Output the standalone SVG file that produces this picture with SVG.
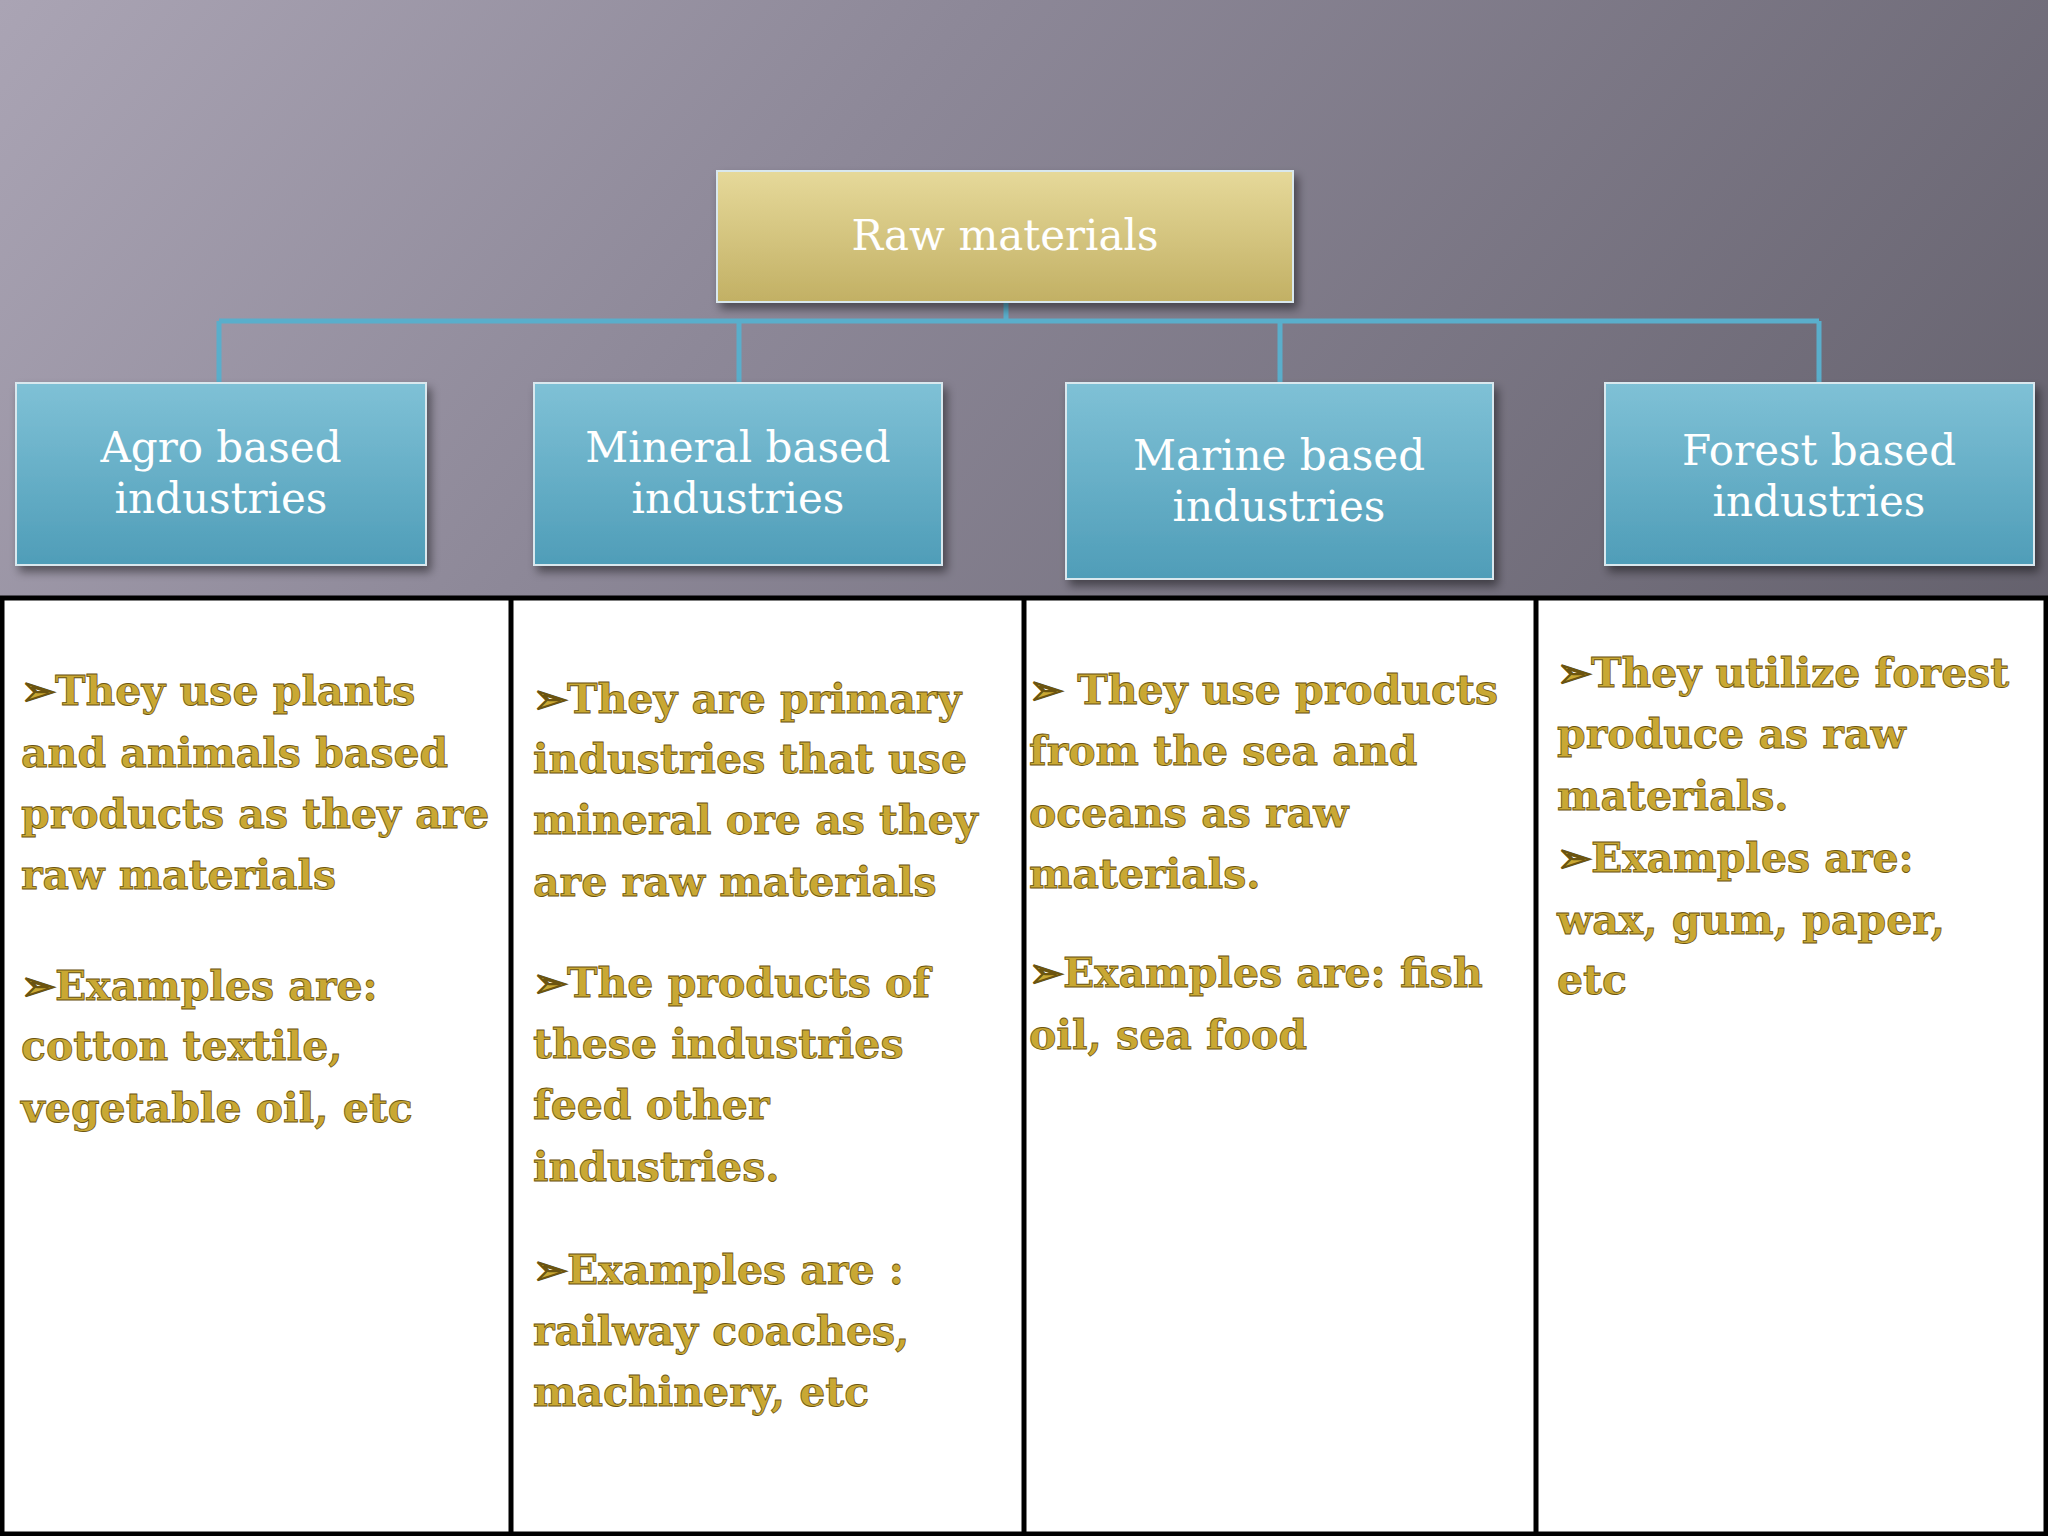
<svg xmlns="http://www.w3.org/2000/svg" width="2048" height="1536" viewBox="0 0 2048 1536">
<defs>
<linearGradient id="bg" x1="0" y1="0" x2="1" y2="0.6">
<stop offset="0" stop-color="#aaa4b4"/><stop offset="0.35" stop-color="#8d8898"/><stop offset="1" stop-color="#5e5b66"/>
</linearGradient>
<linearGradient id="gold" x1="0" y1="0" x2="0" y2="1">
<stop offset="0" stop-color="#e6d99a"/><stop offset="1" stop-color="#c2b064"/>
</linearGradient>
<linearGradient id="blue" x1="0" y1="0" x2="0" y2="1">
<stop offset="0" stop-color="#7fc1d6"/><stop offset="1" stop-color="#4f9db8"/>
</linearGradient>
<filter id="sh" x="-10%" y="-10%" width="130%" height="140%"><feDropShadow dx="4" dy="6" stdDeviation="5" flood-color="#000" flood-opacity="0.45"/></filter>
</defs>
<style>
.box{stroke:#d9e8ee;stroke-width:2;filter:url(#sh)}
.lbl{font-family:"DejaVu Serif",serif;font-size:42px;fill:#fff;text-anchor:middle}
.t{font-family:"DejaVu Serif",serif;font-weight:bold;font-size:41px;fill:#c9a833;stroke:#6b5410;stroke-width:0.8}
.conn{stroke:#5aaecb;stroke-width:5;fill:none}
</style>
<rect width="2048" height="1536" fill="url(#bg)"/>
<g id="connectors">
<path class="conn" d="M1006 302V321M219 321H1819M219 321V383M739 321V383M1280 321V383M1819 321V383"/>
</g>
<g id="raw"><rect class="box" x="717" y="171" width="576" height="131" fill="url(#gold)" stroke="#f0e6b0"/><text class="lbl" x="1005" y="250">Raw materials</text></g>
<g id="agro"><rect class="box" x="16" y="383" width="410" height="182" fill="url(#blue)"/><text class="lbl" x="221" y="462">Agro based</text><text class="lbl" x="221" y="513">industries</text></g>
<g id="mineral"><rect class="box" x="534" y="383" width="408" height="182" fill="url(#blue)"/><text class="lbl" x="738" y="462">Mineral based</text><text class="lbl" x="738" y="513">industries</text></g>
<g id="marine"><rect class="box" x="1066" y="383" width="427" height="196" fill="url(#blue)"/><text class="lbl" x="1279" y="470">Marine based</text><text class="lbl" x="1279" y="521">industries</text></g>
<g id="forest"><rect class="box" x="1605" y="383" width="429" height="182" fill="url(#blue)"/><text class="lbl" x="1819" y="465">Forest based</text><text class="lbl" x="1819" y="516">industries</text></g>
<g id="table">
<rect x="2" y="598" width="2044" height="936" fill="#fff" stroke="#000" stroke-width="5"/>
<path d="M511 598V1536M1024 598V1536M1536 598V1536" stroke="#000" stroke-width="5"/>
</g>
<g id="col1" class="t">
<text x="21" y="705">➢They use plants</text><text x="21" y="767">and animals based</text><text x="21" y="828">products as they are</text><text x="21" y="889">raw  materials</text>
<text x="21" y="1000">➢Examples are:</text><text x="21" y="1060">cotton textile,</text><text x="21" y="1122">vegetable oil, etc</text>
</g>
<g id="col2" class="t">
<text x="533" y="713">➢They are primary</text><text x="533" y="773">industries  that use</text><text x="533" y="834">mineral ore as they</text><text x="533" y="896">are raw materials</text>
<text x="533" y="997">➢The products of</text><text x="533" y="1058">these industries</text><text x="533" y="1119">feed other</text><text x="533" y="1181">industries.</text>
<text x="533" y="1284">➢Examples are :</text><text x="533" y="1345">railway coaches,</text><text x="533" y="1406">machinery, etc</text>
</g>
<g id="col3" class="t">
<text x="1029" y="704">➢ They use products</text><text x="1029" y="765">from the sea and</text><text x="1029" y="827">oceans as raw</text><text x="1029" y="888">materials.</text>
<text x="1029" y="987">➢Examples are: fish</text><text x="1029" y="1049">oil, sea food</text>
</g>
<g id="col4" class="t">
<text x="1557" y="687">➢They utilize forest</text><text x="1557" y="748">produce as raw</text><text x="1557" y="810">materials.</text>
<text x="1557" y="872">➢Examples are:</text><text x="1557" y="934">wax, gum, paper,</text><text x="1557" y="994">etc</text>
</g>
</svg>
